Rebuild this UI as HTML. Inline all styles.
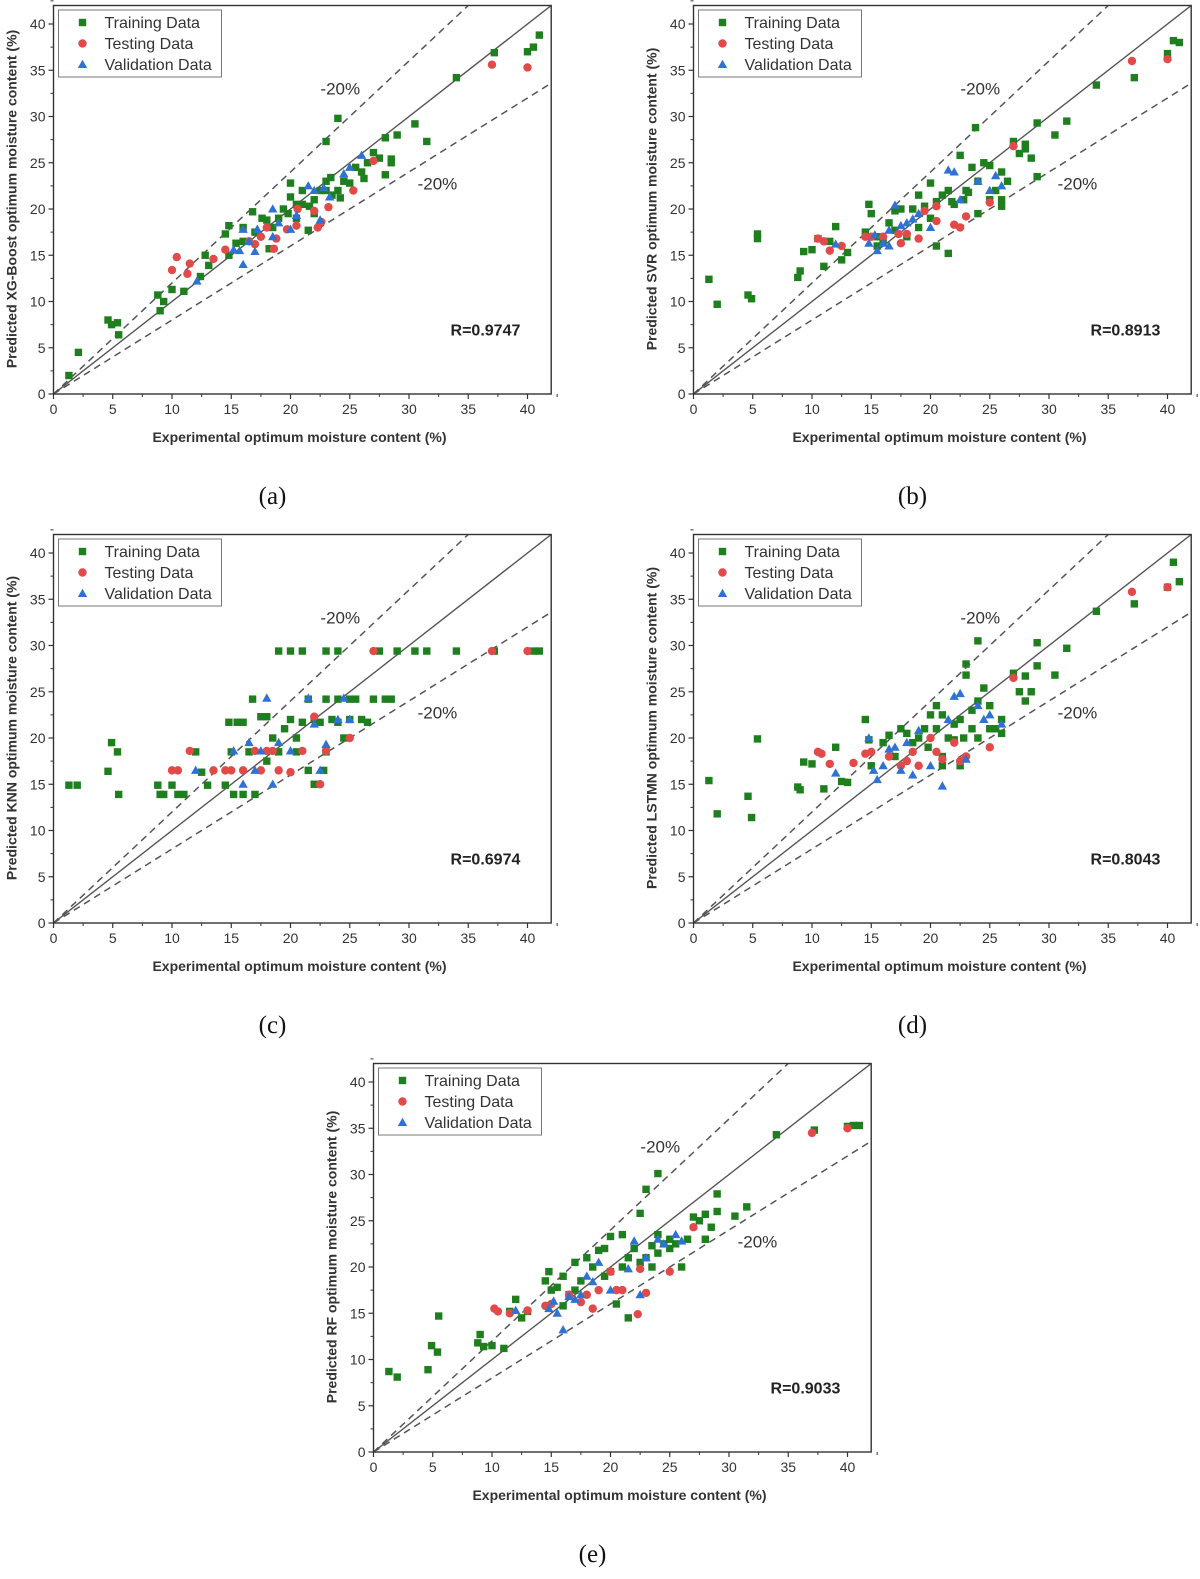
<!DOCTYPE html>
<html><head><meta charset="utf-8"><style>
html,body{margin:0;padding:0;background:#fff;}
svg{display:block;font-family:"Liberation Sans",Arial,sans-serif;}
</style></head><body>
<svg id="fig" width="1200" height="1579" viewBox="0 0 1200 1579" xmlns="http://www.w3.org/2000/svg"></svg>
<script>
const panelNames=["xgboost","svr","knn","lstmn","rf"];
const panelTitles=["XG-Boost","SVR","KNN","LSTMN","RF"];
const panelR=["R=0.9747","R=0.8913","R=0.6974","R=0.8043","R=0.9033"];
const panelCaps=["(a)","(b)","(c)","(d)","(e)"];
const xTicks=[0,5,10,15,20,25,30,35,40];
const yTicks=[0,5,10,15,20,25,30,35,40];
const trainA=[[1.3,2],[2.1,4.5],[4.6,8],[4.9,7.5],[5.4,7.7],[5.5,6.4],[8.8,10.7],[9,9],[9.3,10],[10,11.3],[11,11.1],[12.4,12.7],[12.8,15],[13.1,13.9],[14.5,17.3],[14.8,18.2],[14.8,15],[15.4,16.3],[16,18],[16.8,19.7],[17.6,19],[18,18.8],[18.2,15.7],[18.5,18],[19.4,20],[20,22.8],[20,21.3],[20.5,19],[21,22],[21,20.5],[21.5,17.7],[21.6,20.3],[22,19.5],[23,27.3],[23,23],[23.4,23.4],[24,29.8],[24,22],[24.5,23],[25,22.8],[26,24],[26.2,23.3],[27,26.1],[27.5,25.5],[28,27.7],[28,23.7],[28.5,25.4],[28.5,25],[29,28],[30.5,29.2],[31.5,27.3],[34,34.2],[37.2,36.9],[40,37],[40.5,37.5],[41,38.8],[19,19],[20.5,20.5],[22.5,22],[23.5,21.5],[24.2,21.2],[25.5,24.5],[26.5,25],[17,17.5],[16,16.5],[19.8,19.5],[22,21],[23,22]];
const testA=[[10,13.4],[10.4,14.8],[11.3,13],[11.5,14.1],[13.5,14.6],[14.5,15.6],[16.5,16.5],[17,16.2],[17.5,17],[18,18],[18.6,15.7],[18.8,16.8],[19.7,17.8],[20.5,18.2],[20.6,20],[22,19.8],[22.3,18],[22.6,18.6],[23.2,20.2],[25.3,22],[27,25.2],[37,35.6],[40,35.3]];
const valA=[[12.1,12.2],[15.2,15.6],[15.7,15.5],[16,14],[16,17.8],[16.5,16.5],[17,15.4],[17.2,17.8],[18.5,20],[18.5,17],[19,18.5],[20,17.8],[20.5,19.3],[21.5,22.5],[22,22],[22.5,18.8],[22.8,22.3],[23.3,21.3],[24.5,23.8],[25,24.5],[26,25.8]];
const trainB=[[1.3,12.4],[2,9.7],[4.6,10.7],[4.9,10.3],[5.4,17.3],[5.4,16.8],[8.8,12.6],[9,13.3],[9.3,15.4],[10,15.6],[10.5,16.8],[11,13.8],[11.5,16.5],[12,18.1],[12.5,14.5],[13,15.3],[14.5,17.5],[14.8,20.5],[15,19.5],[15.5,17],[16,16.5],[16.5,18.5],[17,19.8],[17.5,20],[18,17],[18.5,20],[19,21.5],[19.5,20.3],[20,22.8],[20,19],[20.5,16],[21,21.5],[21.5,15.2],[21.5,22],[22,20.5],[22.5,25.8],[23,22],[23.5,24.5],[23.8,28.8],[24,19.5],[24.5,25],[25,24.7],[25.5,22],[26,21],[26,20.3],[26.5,23],[27,27.3],[27.5,26],[28,26.5],[28,27],[28.5,25.5],[29,29.3],[29,23.5],[30.5,28],[31.5,29.5],[34,33.4],[37.2,34.2],[40,36.8],[40.5,38.2],[41,38],[20.5,20.8],[21.8,20.8],[22.8,21],[23.2,21.8],[24,23],[25,21],[26,24],[19,18],[17,17.7],[15.5,16]];
const testB=[[10.5,16.8],[11,16.5],[11.5,15.5],[12.5,16],[14.5,17],[15,17],[16,17],[17.3,17.3],[17.5,16.3],[18,17.3],[19,16.8],[19.5,19.8],[20.5,20.3],[20.5,18.7],[22,18.3],[22.5,18],[23,19.2],[25,20.7],[27,26.8],[37,36],[40,36.2]];
const valB=[[12,16.2],[14.8,16.3],[15.3,17.2],[15.5,15.5],[16,16.3],[16.5,17.7],[17,20.4],[17.5,18.2],[18,18.5],[18.5,18.9],[19,19.5],[20,18],[21.5,24.2],[22,24],[22.5,21],[24,23],[25,22],[25.5,23.6],[26,22.5],[16.5,16]];
const trainC=[[1.3,14.9],[2,14.9],[4.6,16.4],[4.9,19.5],[5.4,18.5],[5.5,13.9],[8.8,14.9],[9,13.9],[9.3,13.9],[10,14.9],[10.5,13.9],[11,13.9],[12,18.5],[12.5,16.3],[13,14.9],[14.5,14.9],[14.8,21.7],[15,18.5],[15.2,13.9],[15.5,21.7],[16,21.7],[16,13.9],[16.5,18.5],[16.8,24.2],[17,13.9],[17.5,22.3],[18,22.3],[18,17.5],[18.5,20],[19,29.4],[19.5,21],[20,29.4],[20,22],[20.5,20],[21,29.4],[21,21.7],[21.5,16.5],[21.5,24.2],[22,15],[22,22],[22.5,21.7],[23,29.4],[23,24.2],[23.5,22],[24,29.4],[24,24.2],[24,21.7],[24.5,20],[25,24.2],[25,22],[25.5,24.2],[26,22],[26.5,21.7],[27,24.2],[27.5,29.4],[28,24.2],[28.5,24.2],[29,29.4],[30.5,29.4],[31.5,29.4],[34,29.4],[37.2,29.4],[40.5,29.4],[41,29.4],[23,18.5],[22.8,16.5],[20.5,18.5],[19,18.5]];
const testC=[[10,16.5],[10.5,16.5],[11.5,18.6],[13.5,16.5],[14.5,16.5],[15,16.5],[16,16.5],[17,18.6],[17.5,16.5],[18,18.6],[18.5,18.6],[19,16.5],[20,16.3],[21,18.6],[22,22.3],[22.5,15],[23,18.6],[25,20],[27,29.4],[37,29.4],[40,29.4]];
const valC=[[12,16.5],[15.2,18.6],[16,15],[16.5,19.5],[17,16.5],[17.5,18.6],[18,24.3],[18.5,15],[19,19.5],[20,18.6],[21.5,24.3],[22,21.5],[22.5,16.5],[23,19.3],[24,22],[24.5,24.3],[25,22]];
const trainD=[[1.3,15.4],[2,11.8],[4.6,13.7],[4.9,11.4],[5.4,19.9],[8.8,14.7],[9,14.4],[9.3,17.4],[10,17.2],[11,14.5],[12,19],[12.5,15.3],[13,15.2],[14.5,22],[14.8,19.8],[15,17],[16,19.5],[16.5,20.3],[17,18],[17.5,21],[18,20.5],[18.5,19.5],[19,20],[19.5,21],[20,22.5],[20.5,21],[20.5,23.5],[21,22.5],[21,18],[21.5,20],[22,19.8],[22,21.5],[22.5,17],[23,28],[23,26.8],[23.5,23],[24,30.5],[24,20],[24.5,25.4],[25,23.5],[25.5,21],[26,22],[26,20.5],[27,27],[27.5,25],[28,26.7],[28,24],[28.5,25],[29,30.3],[29,27.8],[30.5,26.8],[31.5,29.7],[34,33.7],[37.2,34.5],[40,36.3],[40.5,39],[41,36.9],[22.5,22],[23.5,21],[25,21],[24,24],[21,17],[19.8,19],[22.8,20]];
const testD=[[10.5,18.5],[10.8,18.3],[11.5,17.2],[13.5,17.3],[14.5,18.3],[15,18.5],[16.5,18],[17.5,17],[18,17.5],[18.5,18.5],[19,17],[20,20],[20.5,18.5],[21,17.7],[22,19.5],[22.5,17.5],[23,18],[25,19],[27,26.5],[37,35.8],[40,36.3]];
const valD=[[12,16.2],[14.8,20],[15.2,16.5],[15.5,15.5],[16,17],[16.5,18.8],[17,19],[17.5,16.5],[18,19.5],[18.5,16],[19,20.8],[20,17],[21,14.8],[21.5,22],[22,24.5],[22.5,24.8],[23,17.7],[24,23.5],[24.5,22],[25,22.5],[26,21.5]];
const trainE=[[1.3,8.7],[2,8.1],[4.6,8.9],[4.9,11.5],[5.4,10.8],[5.5,14.7],[8.8,11.8],[9,12.7],[9.3,11.4],[10,11.5],[11,11.2],[11.5,15.2],[12,16.5],[12.5,14.5],[13,15.2],[14.5,18.5],[14.8,19.5],[15,17.5],[15.5,17.8],[16,19],[16.5,17],[17,20.5],[17.5,18.5],[18,21],[18.5,20],[19,21.8],[19.5,22],[20,23.3],[20,19.5],[20.5,16],[21,23.5],[21.5,14.5],[21.5,21],[22,22],[22.5,25.8],[23,28.4],[23,21],[23.5,22.3],[24,30.1],[24,21.5],[24.5,22.5],[25,22],[25.5,22.5],[26,20],[26.5,23],[27,25.4],[27.5,25],[28,25.7],[28,23],[28.5,24.3],[29,27.9],[29,26],[30.5,25.5],[31.5,26.5],[34,34.3],[37.2,34.8],[40,35.2],[40.5,35.3],[41,35.3],[21,20],[22.5,20.5],[23.5,20],[24,23.5],[25,23],[19.5,19],[17,17.5],[16,15.8]];
const testE=[[10.2,15.5],[10.5,15.2],[11.5,15],[13,15.3],[14.5,15.8],[15,16],[16.5,17],[17.5,16.2],[18,17],[18.5,15.5],[19,17.5],[20,19.5],[20.5,17.5],[21,17.5],[22.3,14.9],[22.5,19.8],[23,17.2],[25,19.5],[27,24.3],[37,34.5],[40,35]];
const valE=[[12,15.3],[14.8,15.5],[15.2,16.3],[15.5,15],[16,13.2],[16.5,16.8],[17,16.5],[17.5,17],[18,19],[18.5,18.4],[19,20.5],[20,17.5],[21.5,19.8],[22,22.8],[22.5,17],[23,21],[24,23],[24.5,22.5],[25.5,23.5],[26,22.8]];
const trainSets=[trainA,trainB,trainC,trainD,trainE];
const testSets=[testA,testB,testC,testD,testE];
const valSets=[valA,valB,valC,valD,valE];

const NS="http://www.w3.org/2000/svg";
const svg=document.getElementById('fig');
function mk(tag,attrs,parent){const e=document.createElementNS(NS,tag);for(const k in attrs)e.setAttribute(k,attrs[k]);(parent||svg).appendChild(e);return e;}
const origins=[[53.5,394],[693.5,394],[53.5,923],[693.5,923],[373.5,1452]];
const SX=11.85,SY=9.25,MAXV=42;
const GREEN="#1f7f1f",RED="#e24a4a",BLUE="#2f72d3";
function drawMarker(g,type,px,py){
  if(type==='train') return mk('rect',{x:px-3.7,y:py-3.7,width:7.4,height:7.4,fill:GREEN},g);
  if(type==='test') return mk('circle',{cx:px,cy:py,r:4.2,fill:RED},g);
  return mk('polygon',{points:`${px},${py-4.8} ${px+4.7},${py+3.5} ${px-4.7},${py+3.5}`,fill:BLUE},g);
}
panelNames.forEach((nm,i)=>{
  const [ox,oy]=origins[i];
  const xs=v=>ox+v*SX, ys=v=>oy-v*SY;
  const g=mk('g',{});
  
  
  const clipId='clip'+i;
  const cp=mk('clipPath',{id:clipId},g);
  mk('rect',{x:xs(0),y:ys(MAXV),width:MAXV*SX,height:MAXV*SY},cp);
  const lines=mk('g',{'clip-path':`url(#${clipId})`},g);
  const l1=mk('line',{x1:xs(0),y1:ys(0),x2:xs(MAXV),y2:ys(MAXV),stroke:'#555','stroke-width':1.4},lines);
  
  
  const l2=mk('line',{x1:xs(0),y1:ys(0),x2:xs(MAXV/1.2),y2:ys(MAXV),stroke:'#555','stroke-width':1.5,'stroke-dasharray':'7,5'},lines);
  
  
  const l3=mk('line',{x1:xs(0),y1:ys(0),x2:xs(MAXV),y2:ys(MAXV*0.8),stroke:'#555','stroke-width':1.5,'stroke-dasharray':'7,5'},lines);
  
  
  const pts=mk('g',{'clip-path':`url(#${clipId})`},g);
  trainSets[i].forEach(p=>{const m=drawMarker(pts,'train',xs(p[0]),ys(p[1]));
    
    });
  testSets[i].forEach(p=>{const m=drawMarker(pts,'test',xs(p[0]),ys(p[1]));
    
    });
  valSets[i].forEach(p=>{const m=drawMarker(pts,'val',xs(p[0]),ys(p[1]));
    
    });
  const fr=mk('rect',{x:xs(0),y:ys(MAXV),width:MAXV*SX,height:MAXV*SY,fill:'none',stroke:'#333','stroke-width':1.4},g);
  
  
  xTicks.forEach(t=>{
    mk('line',{x1:xs(t),y1:oy,x2:xs(t),y2:oy+5,stroke:'#333','stroke-width':1.2},g);
    mk('line',{x1:xs(t+2.5),y1:oy,x2:xs(t+2.5),y2:oy+3,stroke:'#333','stroke-width':1},g);
    const tx=mk('text',{x:xs(t),y:oy+20,'font-size':14,'text-anchor':'middle',fill:'#333'},g);tx.textContent=t;
    
    
  });
  yTicks.forEach(t=>{
    mk('line',{x1:ox,y1:ys(t),x2:ox-5,y2:ys(t),stroke:'#333','stroke-width':1.2},g);
    mk('line',{x1:ox,y1:ys(t+2.5),x2:ox-3,y2:ys(t+2.5),stroke:'#333','stroke-width':1},g);
    const tx=mk('text',{x:ox-8,y:ys(t)+5,'font-size':14,'text-anchor':'end',fill:'#333'},g);tx.textContent=t;
    
    
  });
  const xt=mk('text',{x:ox+246,y:oy+48,'font-size':14,'font-weight':'bold','text-anchor':'middle',fill:'#333'},g);
  xt.textContent='Experimental optimum moisture content (%)';
  
  
  const cy=oy-195, tx0=ox-37;
  const yt=mk('text',{x:tx0,y:cy,'font-size':14,'font-weight':'bold','text-anchor':'middle',fill:'#333',transform:`rotate(-90 ${tx0} ${cy})`},g);
  yt.textContent='Predicted '+panelTitles[i]+' optimum moisture content (%)';
  
  
  const a1=mk('text',{x:xs(24.2),y:ys(32.4),'font-size':17,'text-anchor':'middle',fill:'#333'},g);a1.textContent='-20%';
  
  
  const a2=mk('text',{x:xs(32.4),y:ys(22.1),'font-size':17,'text-anchor':'middle',fill:'#333'},g);a2.textContent='-20%';
  
  
  const rt=mk('text',{x:xs(39.4),y:ys(6.3),'font-size':16,'font-weight':'bold','text-anchor':'end',fill:'#222'},g);rt.textContent=panelR[i];
  
  
  const lg=mk('g',{},g);
  
  
  const top=ys(MAXV);
  mk('rect',{x:ox+5,y:top+4.5,width:163,height:67,fill:'#fff',stroke:'#777','stroke-width':1},lg);
  [['train','Training Data'],['test','Testing Data'],['val','Validation Data']].forEach((e,k)=>{
    const yy=top+17+k*21;
    const le=mk('g',{},lg);
    
    
    drawMarker(le,e[0],ox+29,yy);
    const t=mk('text',{x:ox+51,y:yy+5.5,'font-size':16,fill:'#333'},le);t.textContent=e[1];
  });
  const cap=mk('text',{x:ox+219,y:oy+110,'font-size':25,'text-anchor':'middle',fill:'#111','font-family':'"Liberation Serif",serif'},g);
  cap.textContent=panelCaps[i];
  
  
});
</script>
</body></html>
